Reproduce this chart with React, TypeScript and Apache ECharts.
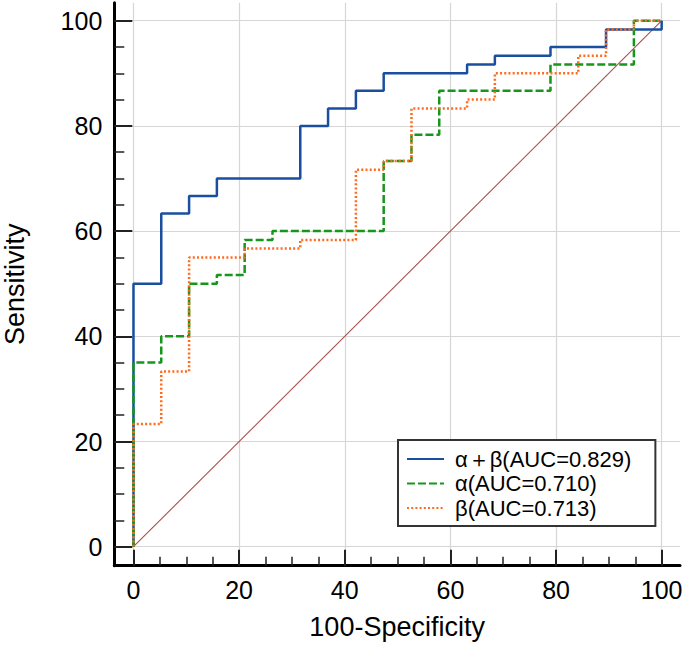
import React, { useEffect, useRef } from "react";
import * as echarts from "echarts";

// Axis ticks / labels
const xTicks = [0, 20, 40, 60, 80, 100];
const yTicks = [0, 20, 40, 60, 80, 100];

// Legend / series names
const seriesNames = ["α＋β(AUC=0.829)", "α(AUC=0.710)", "β(AUC=0.713)"];

// ROC operating points (100-Specificity, Sensitivity)
const abFpr = [0, 0, 5.26, 10.53, 15.79, 31.58, 36.84, 42.11, 47.37, 63.16, 68.42, 78.95, 89.47, 100];
const abTpr = [0, 50, 63.33, 66.67, 70, 80, 83.33, 86.67, 90, 91.67, 93.33, 95, 98.33, 100];

const aFpr = [0, 0, 5.26, 10.53, 15.79, 21.05, 26.32, 47.37, 52.63, 57.89, 78.95, 94.74, 100];
const aTpr = [0, 35, 40, 50, 51.67, 58.33, 60, 73.33, 78.33, 86.67, 91.67, 100, 100];

const bFpr = [0, 0, 5.26, 10.53, 21.05, 31.58, 42.11, 47.37, 52.63, 63.16, 68.42, 84.21, 89.47, 94.74, 100];
const bTpr = [0, 23.33, 33.33, 55, 56.67, 58.33, 71.67, 73.33, 83.33, 85, 90, 93.33, 98.33, 100, 100];

// Reference diagonal
const refX = [0, 100];
const refY = [0, 100];

const FONT = "'Liberation Sans', Arial, Helvetica, sans-serif";

const pairs = (xs: number[], ys: number[]) => xs.map((x, i) => [x, ys[i]]);

export default function App() {
  const ref = useRef<HTMLDivElement>(null);

  useEffect(() => {
    if (!ref.current) return;
    const chart = echarts.init(ref.current, undefined, { renderer: "svg" });
    const option: any = {
      animation: false,
      backgroundColor: "#ffffff",
      grid: { left: 114.3, top: 2.7, right: 5, bottom: 81.3, outerBoundsMode: "none", containLabel: false },
      xAxis: {
        type: "value",
        min: -3.63,
        max: 103.47,
        minInterval: 20,
        maxInterval: 20,
        name: "100-Specificity",
        nameLocation: "middle",
        nameGap: 48,
        nameTextStyle: { fontSize: 27, color: "#000", fontFamily: FONT },
        axisLine: { show: true, onZero: false, lineStyle: { color: "#000", width: 3 } },
        axisTick: { show: true, inside: true, length: 16, customValues: xTicks, lineStyle: { color: "#222", width: 2 } },
        minorTick: { show: true, splitNumber: 4, length: 9, lineStyle: { color: "#222", width: 1.5 } },
        axisLabel: { customValues: xTicks, margin: 12, fontSize: 25, color: "#000", fontFamily: FONT },
        splitLine: { show: true, lineStyle: { color: "#d6d6d6", width: 1.2 } },
      },
      yAxis: {
        type: "value",
        min: -3.61,
        max: 103.42,
        minInterval: 20,
        maxInterval: 20,
        name: "Sensitivity",
        nameLocation: "middle",
        nameGap: 86,
        nameRotate: 90,
        nameTextStyle: { fontSize: 27, color: "#000", fontFamily: FONT },
        axisLine: { show: true, onZero: false, lineStyle: { color: "#000", width: 3 } },
        axisTick: { show: true, inside: true, length: 18, customValues: yTicks, lineStyle: { color: "#222", width: 2 } },
        minorTick: { show: true, splitNumber: 4, length: 10, lineStyle: { color: "#222", width: 1.5 } },
        axisLabel: { customValues: yTicks, margin: 12, fontSize: 25, color: "#000", fontFamily: FONT },
        splitLine: { show: true, lineStyle: { color: "#d6d6d6", width: 1.2 } },
      },
      legend: {
        data: seriesNames,
        orient: "vertical",
        left: 398,
        top: 440,
        padding: [8, 24, 7, 8],
        itemWidth: 37,
        itemHeight: 14,
        itemGap: 2.5,
        backgroundColor: "#ffffff",
        borderColor: "#333",
        borderWidth: 2,
        borderRadius: 0,
        itemStyle: { opacity: 0 },
        textStyle: { fontSize: 22, color: "#000", fontFamily: FONT, padding: [0, 0, 0, 6] },
      },
      series: [
        {
          type: "line",
          name: "ref",
          data: pairs(refX, refY),
          symbol: "none",
          silent: true,
          lineStyle: { color: "#a8504c", width: 1.1 },
          itemStyle: { color: "#a8504c" },
          z: 2,
        },
        {
          type: "line",
          name: seriesNames[0],
          data: pairs(abFpr, abTpr),
          step: "end",
          symbol: "none",
          lineStyle: { color: "#1a4fa0", width: 2.5 },
          itemStyle: { color: "#1a4fa0" },
          z: 3,
        },
        {
          type: "line",
          name: seriesNames[1],
          data: pairs(aFpr, aTpr),
          step: "end",
          symbol: "none",
          lineStyle: { color: "#16961a", width: 2.5, type: [8, 3] },
          itemStyle: { color: "#16961a" },
          z: 4,
        },
        {
          type: "line",
          name: seriesNames[2],
          data: pairs(bFpr, bTpr),
          step: "end",
          symbol: "none",
          lineStyle: { color: "#ff6a1c", width: 2.5, type: [2, 2.2] },
          itemStyle: { color: "#ff6a1c" },
          z: 5,
        },
      ],
    };
    chart.setOption(option);
    return () => chart.dispose();
  }, []);

  return (
    <div
      ref={ref}
      style={{ position: "fixed", left: 0, top: 0, width: 685, height: 647, background: "#fff" }}
    />
  );
}
